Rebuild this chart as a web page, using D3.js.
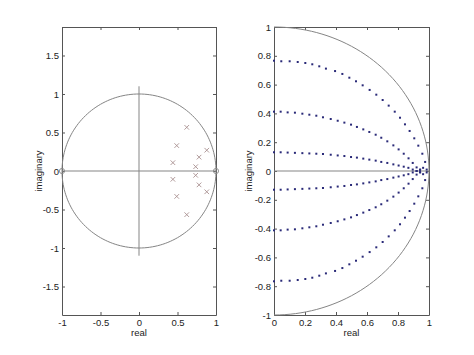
<!DOCTYPE html>
<html><head><meta charset="utf-8">
<script src="https://cdn.jsdelivr.net/npm/d3@7"></script>
<style>
body{margin:0;background:#fff;}
svg{display:block;}
text{font-family:"Liberation Sans",Arial,sans-serif;font-size:9.5px;fill:#222;}
</style></head>
<body><svg id="c" width="474" height="355"></svg>
<script>
// ---- data ----
const leftXTicks = [-1, -0.5, 0, 0.5, 1];
const leftYTicks = [-1.5, -1, -0.5, 0, 0.5, 1, 1.5];
const rightXTicks = [0, 0.2, 0.4, 0.6, 0.8, 1];
const rightYTicks = [-1, -0.8, -0.6, -0.4, -0.2, 0, 0.2, 0.4, 0.6, 0.8, 1];

// poles (x markers)
const poleRe = [0.62, 0.49, 0.88, 0.78, 0.44, 0.736, 0.736, 0.44, 0.78, 0.88, 0.49, 0.62];
const poleIm = [0.567, 0.33, 0.27, 0.18, 0.108, 0.056, -0.056, -0.108, -0.18, -0.27, -0.33, -0.567];
// zeros (o markers)
const zeroRe = [-1, 1];
const zeroIm = [0, 0];

// dotted curves (right panel)
const curve1 = [[0,0.766],[0.047,0.762],[0.101,0.762],[0.153,0.757],[0.202,0.75],[0.247,0.741],[0.292,0.727],[0.335,0.711],[0.394,0.694],[0.441,0.674],[0.486,0.648],[0.529,0.623],[0.572,0.595],[0.617,0.563],[0.66,0.53],[0.701,0.493],[0.74,0.454],[0.779,0.412],[0.813,0.37],[0.845,0.324],[0.875,0.278],[0.905,0.227],[0.931,0.176],[0.957,0.12],[0.975,0.063],[0.985,0.01]];
const curve2 = [[0,0.412],[0.043,0.412],[0.088,0.407],[0.135,0.405],[0.183,0.398],[0.228,0.391],[0.273,0.384],[0.316,0.373],[0.366,0.361],[0.411,0.349],[0.454,0.336],[0.497,0.322],[0.535,0.306],[0.576,0.289],[0.615,0.271],[0.656,0.252],[0.692,0.231],[0.731,0.206],[0.77,0.178],[0.804,0.15],[0.837,0.12],[0.868,0.088],[0.895,0.056],[0.92,0.025],[0.942,-0.008]];
const curve3 = [[0,0.13],[0.043,0.13],[0.088,0.128],[0.135,0.126],[0.183,0.124],[0.228,0.122],[0.273,0.12],[0.316,0.118],[0.366,0.113],[0.411,0.108],[0.454,0.104],[0.497,0.097],[0.535,0.093],[0.576,0.086],[0.615,0.079],[0.656,0.072],[0.692,0.063],[0.731,0.056],[0.77,0.046],[0.804,0.038],[0.837,0.03],[0.867,0.022],[0.895,0.01],[0.92,0.0],[0.943,-0.01],[0.962,-0.022]];
const curve4 = [[0,-0.13],[0.043,-0.13],[0.088,-0.128],[0.135,-0.126],[0.183,-0.124],[0.228,-0.122],[0.273,-0.12],[0.316,-0.118],[0.366,-0.113],[0.411,-0.108],[0.454,-0.104],[0.497,-0.097],[0.535,-0.093],[0.576,-0.086],[0.615,-0.079],[0.656,-0.072],[0.692,-0.063],[0.731,-0.056],[0.77,-0.046],[0.804,-0.038],[0.837,-0.03],[0.867,-0.022],[0.895,-0.01],[0.92,0.0],[0.943,0.01],[0.962,0.022]];
const curve5 = [[0,-0.412],[0.043,-0.412],[0.088,-0.407],[0.135,-0.405],[0.183,-0.398],[0.228,-0.391],[0.273,-0.384],[0.316,-0.373],[0.366,-0.361],[0.411,-0.349],[0.454,-0.336],[0.497,-0.322],[0.535,-0.306],[0.576,-0.289],[0.615,-0.271],[0.656,-0.252],[0.692,-0.231],[0.731,-0.206],[0.77,-0.178],[0.804,-0.15],[0.837,-0.12],[0.868,-0.088],[0.895,-0.056],[0.92,-0.025],[0.942,0.008]];
const curve6 = [[0,-0.766],[0.047,-0.762],[0.101,-0.762],[0.153,-0.757],[0.202,-0.75],[0.247,-0.741],[0.292,-0.727],[0.335,-0.711],[0.394,-0.694],[0.441,-0.674],[0.486,-0.648],[0.529,-0.623],[0.572,-0.595],[0.617,-0.563],[0.66,-0.53],[0.701,-0.493],[0.74,-0.454],[0.779,-0.412],[0.813,-0.37],[0.845,-0.324],[0.875,-0.278],[0.905,-0.227],[0.931,-0.176],[0.957,-0.12],[0.975,-0.063],[0.985,-0.01]];
const curves = [curve1, curve2, curve3, curve4, curve5, curve6];

// ---- drawing ----
const svg = d3.select("#c");
const boxCol = "#555", lineCol = "#858585";

function panel(x0, x1, y0, y1, xd, yd, xt, yt) {
  const g = svg.append("g");
  const x = d3.scaleLinear().domain(xd).range([x0, x1]);
  const y = d3.scaleLinear().domain(yd).range([y1, y0]);
  const tl = 3;
  const mk = (ax, sc, ticks, inner) => ax(sc).tickValues(ticks).tickSizeInner(inner).tickSizeOuter(0).tickFormat(d3.format("~g"));
  const ax = [
    g.append("g").attr("transform", `translate(0,${y1})`).call(mk(d3.axisBottom, x, xt, -tl)),
    g.append("g").attr("transform", `translate(0,${y0})`).call(mk(d3.axisTop, x, xt, -tl)),
    g.append("g").attr("transform", `translate(${x0},0)`).call(mk(d3.axisLeft, y, yt, -tl)),
    g.append("g").attr("transform", `translate(${x1},0)`).call(mk(d3.axisRight, y, yt, -tl))
  ];
  ax.forEach((a, i) => {
    a.select(".domain").attr("stroke", boxCol);
    a.selectAll(".tick line").attr("stroke", boxCol);
    a.selectAll("text").attr("fill", "#222").style("font-family", '"Liberation Sans",Arial,sans-serif').style("font-size", "9.5px");
    if (i === 1 || i === 3) a.selectAll("text").remove();
  });
  ax[0].selectAll("text").attr("dy", "0.71em").attr("y", 4);
  ax[2].selectAll("text").attr("x", -3);
  ax[0].selectAll(".tick text").text(d => d3.format("~g")(d).replace("−", "-"));
  ax[2].selectAll(".tick text").text(d => d3.format("~g")(d).replace("−", "-"));
  g.append("text").attr("x", (x0 + x1) / 2).attr("y", 336).attr("text-anchor", "middle").text("real");
  return {g, x, y};
}

// Left panel
const L = panel(62, 216, 27, 315, [-1, 1], [-1.87, 1.87], leftXTicks, leftYTicks);
L.g.append("text").attr("transform", `translate(42,171) rotate(-90)`).attr("text-anchor", "middle").text("imaginary");
const circ = d3.range(0, 361, 2).map(a => [Math.cos(a * Math.PI / 180), Math.sin(a * Math.PI / 180)]);
const lineL = d3.line().x(d => L.x(d[0])).y(d => L.y(d[1]));
L.g.append("path").attr("d", lineL(circ)).attr("fill", "none").attr("stroke", lineCol).attr("stroke-width", 1);
L.g.append("line").attr("x1", L.x(-1)).attr("x2", L.x(1)).attr("y1", L.y(0)).attr("y2", L.y(0)).attr("stroke", lineCol);
L.g.append("line").attr("x1", L.x(0)).attr("x2", L.x(0)).attr("y1", L.y(1.1)).attr("y2", L.y(-1.1)).attr("stroke", lineCol);
poleRe.forEach((r, i) => {
  const cx = L.x(r), cy = L.y(poleIm[i]), s = 2.3;
  L.g.append("path").attr("d", `M${cx - s},${cy - s}L${cx + s},${cy + s}M${cx - s},${cy + s}L${cx + s},${cy - s}`)
    .attr("stroke", "#a89090").attr("stroke-width", 0.9).attr("fill", "none");
});
zeroRe.forEach((r, i) => {
  L.g.append("circle").attr("cx", L.x(r)).attr("cy", L.y(zeroIm[i])).attr("r", 2.6)
    .attr("fill", "none").attr("stroke", "#8a8a8a").attr("stroke-width", 0.9);
});

// Right panel
const R = panel(274, 429, 27, 315, [0, 1], [-1, 1], rightXTicks, rightYTicks);
R.g.append("text").attr("transform", `translate(252,171) rotate(-90)`).attr("text-anchor", "middle").text("imaginary");
const half = d3.range(-90, 91, 2).map(a => [Math.cos(a * Math.PI / 180), Math.sin(a * Math.PI / 180)]);
const lineR = d3.line().x(d => R.x(d[0])).y(d => R.y(d[1]));
R.g.append("path").attr("d", lineR(half)).attr("fill", "none").attr("stroke", lineCol).attr("stroke-width", 1);
R.g.append("line").attr("x1", R.x(0)).attr("x2", R.x(1)).attr("y1", R.y(0)).attr("y2", R.y(0)).attr("stroke", lineCol);
curves.forEach(c => {
  R.g.selectAll(null).data(c).enter().append("rect")
    .attr("x", d => R.x(d[0]) - 1).attr("y", d => R.y(d[1]) - 1)
    .attr("width", 2).attr("height", 2).attr("fill", "#2a2a78");
});
</script></body></html>
